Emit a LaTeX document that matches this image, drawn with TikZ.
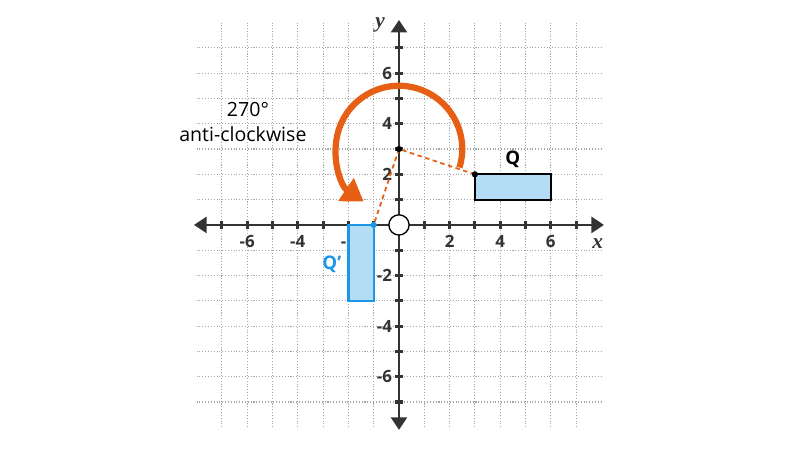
\documentclass[tikz,border=0pt]{standalone}
\usepackage{fontspec}
\setmainfont{Open Sans}
\newfontfamily\axisfont{Liberation Serif}
\usetikzlibrary{arrows.meta,calc}
\definecolor{rotorange}{RGB}{230,95,20}
\definecolor{imgblue}{RGB}{30,150,230}
\definecolor{fillblue}{RGB}{180,220,245}
\tikzset{
  gridline/.style={gray!70,dotted,line width=1.2pt},
  axisline/.style={line width=2.6pt,color=black!80,-{Triangle[length=14pt,width=18pt]}},
  ticklbl/.style={font=\fontsize{19}{19}\selectfont\bfseries,color=black!80},
  axislbl/.style={font=\fontsize{24}{24}\selectfont\axisfont\bfseries\itshape,color=black!80},
  pt/.style={circle,fill,inner sep=0pt,minimum size=7pt}
}
\begin{document}
\begin{tikzpicture}
\useasboundingbox (-15.77,-8.89) rectangle (15.85,8.89);
\foreach \i in {-7,...,7} {
  \draw[gridline] (\i,-8) -- (\i,8);
  \draw[gridline] (-8,\i) -- (8,\i);
}
\draw[axisline] (0,0) -- (8.1,0);
\draw[axisline] (0,0) -- (-8.1,0);
\draw[axisline] (0,0) -- (0,8.1);
\draw[axisline] (0,0) -- (0,-8.1);
\foreach \i in {-7,...,-1,1,2,...,7} {
  \draw[line width=3.5pt,black!80] (\i,-0.15) -- (\i,0.15);
  \draw[line width=3.5pt,black!80] (-0.15,\i) -- (0.15,\i);
}
\foreach \i in {-6,-4,-2,2,4,6} {
  \node[ticklbl,anchor=north] (xl\i) at (\i,-0.3) {\i};
  \node[ticklbl,anchor=east] (yl\i) at (-0.15,\i) {\i};
}
\node[circle,draw,line width=1.5pt,fill=white,minimum size=0.8cm,inner sep=0pt] (o) at (0,0) {};
\node[axislbl] (xlab) at (7.85,-0.75) {x};
\node[axislbl] (ylab) at (-0.75,7.9) {y};
% shape and image
\draw[line width=2.5pt,fill=fillblue] (3,1) rectangle (6,2);
\draw[line width=2.5pt,color=imgblue,fill=fillblue] (-2,0) rectangle (-1,-3);
\node[font=\fontsize{21}{21}\selectfont\bfseries] (q) at (4.5,2.6) {Q};
\node[font=\fontsize{21}{21}\selectfont\bfseries,color=imgblue] (qq) at (-2.65,-1.55) {Q'};
% rotation
\coordinate (c) at (0,3);
\coordinate (a) at (3,2);
\coordinate (b) at (-1,0);
\draw[rotorange,line width=2pt,dash pattern=on 5pt off 4pt] (a) -- (c) -- (b);
\node[pt] (cn) at (c) {};
\node[pt] (an) at (a) {};
\node[pt,fill=imgblue] (bn) at (b) {};
\draw[rotorange,line width=7pt,-{Triangle[length=24pt,width=30pt]}] ($(c)+(-17:2.5)$) arc (-17:236:2.5);
\node[font=\fontsize{22}{22}\selectfont] (deg) at (-5.97,4.55) {270°};
\node[font=\fontsize{22}{22}\selectfont] (dir) at (-6.17,3.6) {anti-clockwise};
\end{tikzpicture}
\end{document}
